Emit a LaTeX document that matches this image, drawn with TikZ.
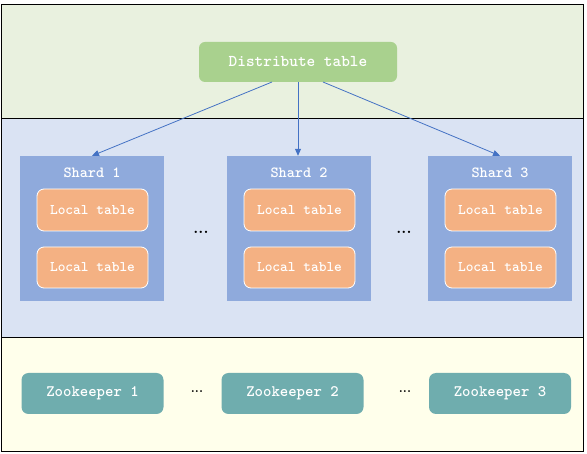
\documentclass[tikz,border=0pt]{standalone}
\usepackage{fontspec}
\usetikzlibrary{arrows.meta}
\definecolor{bandtop}{HTML}{E9F1DF}
\definecolor{bandmid}{HTML}{DAE3F3}
\definecolor{bandbot}{HTML}{FFFFEB}
\definecolor{distfill}{HTML}{A9D18E}
\definecolor{shardfill}{HTML}{8FAADC}
\definecolor{localfill}{HTML}{F4B183}
\definecolor{zkfill}{HTML}{6FADAE}
\definecolor{arrowblue}{HTML}{4472C4}
\tikzset{
  band/.style={draw=black, line width=0.9pt},
  distbox/.style={fill=distfill, rounded corners=6pt, text=white, font=\ttfamily\bfseries\fontsize{16.5}{18}\selectfont},
  shardbox/.style={fill=shardfill},
  shardtitle/.style={text=white, font=\ttfamily\bfseries\fontsize{15.5}{18}\selectfont},
  localbox/.style={fill=localfill, draw=white, line width=0.8pt, rounded corners=7pt, text=white, font=\ttfamily\bfseries\fontsize{14.7}{17}\selectfont},
  zkbox/.style={fill=zkfill, rounded corners=7pt, text=white, font=\ttfamily\bfseries\fontsize{16}{18}\selectfont},
  dots/.style={font=\fontsize{16}{18}\selectfont\bfseries},
  smalldots/.style={font=\fontsize{13}{15}\selectfont\bfseries},
  link/.style={draw=arrowblue, line width=0.8pt, -{Triangle[length=7pt,width=6pt]}}
}
\begin{document}
\begin{tikzpicture}[x=1pt,y=-1pt]
\useasboundingbox (0,0) rectangle (587,454);
% bands
\fill[bandtop] (1.5,4) rectangle (583.5,118);
\fill[bandmid] (1.5,118) rectangle (583.5,337);
\fill[bandbot] (1.5,337) rectangle (583.5,451);
\draw[band] (1.5,4) rectangle (583.5,451);
\draw[band] (1.5,118) -- (583.5,118);
\draw[band] (1.5,337) -- (583.5,337);
% distribute table
\node[distbox, minimum width=198pt, minimum height=40pt] (dist) at (298,62) {Distribute table};
% shards
\foreach \i/\cx in {1/92, 2/299, 3/500} {
  \node[shardbox, minimum width=144pt, minimum height=145pt] (s\i) at (\cx,228.5) {};
  \node[shardtitle] (st\i) at (\cx,173) {Shard \i};
  \node[localbox, minimum width=111pt, minimum height=42pt] (la\i) at (\cx+0.5,210) {Local table};
  \node[localbox, minimum width=111pt, minimum height=41pt] (lb\i) at (\cx+0.5,267.5) {Local table};
}
\node[dots] (d1) at (201,232) {...};
\node[dots] (d2) at (404,232) {...};
% arrows
\coordinate (a1) at (272,82);
\coordinate (a2) at (298,82);
\coordinate (a3) at (323,82);
\draw[link] (a1) -- (s1.north);
\draw[link] (a2) -- (s2.north -| a2);
\draw[link] (a3) -- (s3.north);
% zookeepers
\node[zkbox, minimum width=142pt, minimum height=41pt] (z1) at (92.5,393.5) {Zookeeper 1};
\node[zkbox, minimum width=142pt, minimum height=41pt] (z2) at (292.5,393.5) {Zookeeper 2};
\node[zkbox, minimum width=142pt, minimum height=41pt] (z3) at (500,393.5) {Zookeeper 3};
\node[smalldots] (d3) at (197,392) {...};
\node[smalldots] (d4) at (405,392) {...};
\end{tikzpicture}
\end{document}
